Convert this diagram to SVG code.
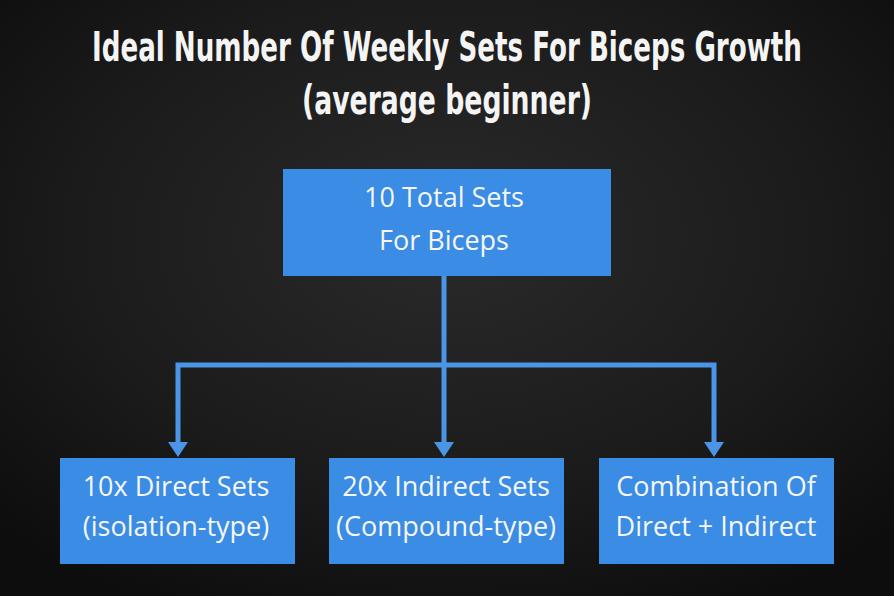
<svg xmlns="http://www.w3.org/2000/svg" width="894" height="596" viewBox="0 0 894 596">
<defs>
<radialGradient id="bg" cx="0.5" cy="0.4" r="0.7">
<stop offset="0" stop-color="#2a2a2a"/>
<stop offset="0.6" stop-color="#1b1b1b"/>
<stop offset="1" stop-color="#0d0d0d"/>
</radialGradient>
<style>
.title{font-family:"DejaVu Sans Condensed","DejaVu Sans",sans-serif;font-weight:bold;font-size:32px;fill:#f4f4f4;text-anchor:middle}
.box{fill:#3a8ce4}
.lbl{font-family:"Open Sans","Noto Sans",sans-serif;font-size:27px;font-weight:500;fill:#f6f6f6;text-anchor:middle}
.conn{stroke:#4a95e6;stroke-width:5;fill:none}
.head{fill:#4a95e6}
</style>
</defs>
<rect width="894" height="596" fill="url(#bg)"/>
<g id="title" transform="scale(1,1.3)">
<text class="title" x="447" y="46.9" textLength="710" lengthAdjust="spacingAndGlyphs">Ideal Number Of Weekly Sets For Biceps Growth</text>
<text class="title" x="447" y="87.5" textLength="290" lengthAdjust="spacingAndGlyphs">(average beginner)</text>
</g>
<g id="connectors">
<line class="conn" x1="444" y1="276" x2="444" y2="445"/>
<path class="conn" d="M178,445 L178,365 L714,365 L714,445"/>
<polygon class="head" points="434,442 454,442 444,457"/>
<polygon class="head" points="168,442 188,442 178,457"/>
<polygon class="head" points="704,442 724,442 714,457"/>
</g>
<g id="node-total">
<rect class="box" x="283" y="169" width="328" height="107"/>
<text class="lbl" x="444" y="207">10 Total Sets</text>
<text class="lbl" x="444" y="250">For Biceps</text>
</g>
<g id="node-direct">
<rect class="box" x="60" y="458" width="235" height="106"/>
<text class="lbl" x="176" y="496">10x Direct Sets</text>
<text class="lbl" x="176" y="536">(isolation-type)</text>
</g>
<g id="node-indirect">
<rect class="box" x="329" y="458" width="235" height="106"/>
<text class="lbl" x="446" y="496">20x Indirect Sets</text>
<text class="lbl" x="446" y="536">(Compound-type)</text>
</g>
<g id="node-combination">
<rect class="box" x="599" y="458" width="235" height="106"/>
<text class="lbl" x="716" y="496">Combination Of</text>
<text class="lbl" x="716" y="536">Direct + Indirect</text>
</g>
</svg>
